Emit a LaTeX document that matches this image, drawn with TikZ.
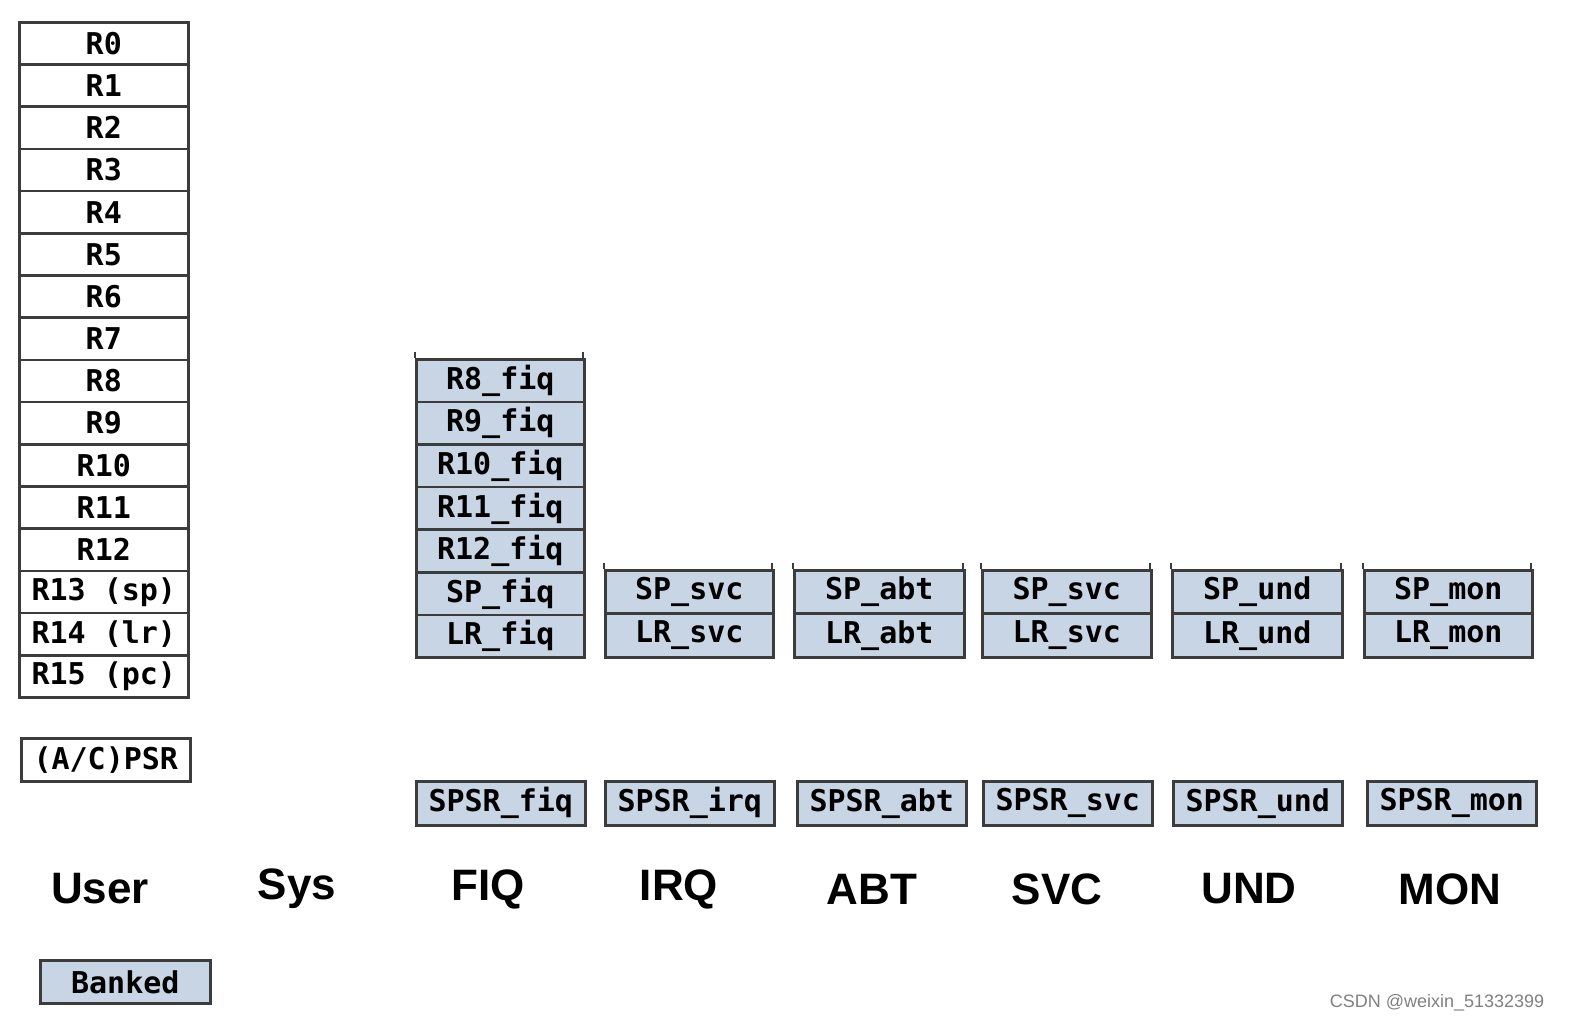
\documentclass[tikz,border=0pt]{standalone}
\usepackage{fontspec}
\newfontfamily\regf{DejaVu Sans Mono}
\newfontfamily\labf{Liberation Sans}
\definecolor{bank}{RGB}{200,213,228}
\definecolor{edge}{RGB}{60,60,60}
\begin{document}
\begin{tikzpicture}[x=0.5pt,y=-0.5pt,
  reg/.style={draw=edge,line width=1.3pt,inner sep=0pt,anchor=north west,font=\regf\bfseries\fontsize{15}{15}\selectfont},
  user/.style={reg,fill=white},
  bk/.style={reg,fill=bank},
  mode/.style={font=\labf\bfseries\fontsize{22}{22}\selectfont}]
\useasboundingbox (0,0) rectangle (1570,1024);
% user column
\foreach \t [count=\i from 0] in {R0,R1,R2,R3,R4,R5,R6,R7,R8,R9,R10,R11,R12,R13 (sp),R14 (lr),R15 (pc)}{
  \node[user,minimum width=84.5pt,minimum height=21.1pt] (u\i) at (18,{21+42.2*\i}) {\t};
}
\node[user,minimum width=84.5pt,minimum height=21.5pt] (cpsr) at (20,737) {(A/C)PSR};
% FIQ column
\foreach \t [count=\i from 0] in {R8\_fiq,R9\_fiq,R10\_fiq,R11\_fiq,R12\_fiq,SP\_fiq,LR\_fiq}{
  \node[bk,minimum width=84pt,minimum height=21.3pt] (f\i) at (415,{358+42.6*\i}) {\t};
}
\draw[edge,line width=1.3pt] (415,352)--(415,358) (583,352)--(583,358);
% other columns
\foreach \x/\w/\m [count=\k] in {604/168/svc,793/170/abt,981/169/svc,1171/170/und,1363/168/mon}{
  \node[bk,minimum width=\w/2 pt,minimum height=21.5pt] (s\k) at (\x,569) {SP\_\m};
  \node[bk,minimum width=\w/2 pt,minimum height=22pt] (l\k) at (\x,612) {LR\_\m};
  \draw[edge,line width=1.3pt] (\x,563)--(\x,569) (\x+\w,563)--(\x+\w,569);
}
% SPSR row
\foreach \x/\m [count=\k] in {415/fiq,604/irq,796/abt,982/svc,1172/und,1366/mon}{
  \node[bk,minimum width=84.5pt,minimum height=22pt] (p\k) at (\x,780) {SPSR\_\m};
}
% mode labels
\foreach \x/\t in {100/User,297/Sys,488/FIQ,679/IRQ,872/ABT,1057/SVC,1249/UND,1450/MON}{
  \node[mode] (m\t) at (\x,889) {\t};
}
\node[bk,minimum width=85pt,minimum height=21.5pt] (banked) at (39,959) {Banked};
\node[font=\labf\fontsize{9}{9}\selectfont,text=gray] (wm) at (1437,1003) {CSDN @weixin\_51332399};
\end{tikzpicture}
\end{document}
